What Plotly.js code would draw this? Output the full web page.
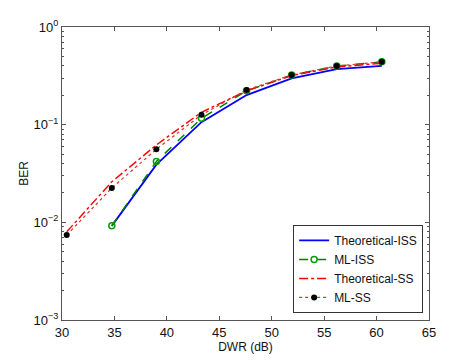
<!DOCTYPE html>
<html>
<head>
<meta charset="utf-8">
<script src="https://cdn.plot.ly/plotly-3.0.1.min.js"></script>
<style>html,body{margin:0;padding:0;background:#fff;}#chart{width:474px;height:361px;}</style>
</head>
<body>
<div id="chart"></div>
<script>
const xSS = [30.45, 34.75, 39.0, 43.3, 47.6, 51.9, 56.2, 60.5];
const xISS = [34.75, 39.0, 43.3, 47.6, 51.9, 56.2, 60.5];
const theoISS = [0.0092, 0.039, 0.106, 0.201, 0.298, 0.37, 0.40];
const mlISS = [0.0092, 0.042, 0.116, 0.222, 0.322, 0.398, 0.44];
const theoSS = [0.008, 0.026, 0.062, 0.134, 0.222, 0.318, 0.39, 0.425];
const mlSS = [0.0074, 0.0225, 0.056, 0.126, 0.227, 0.323, 0.399, 0.44];
const seriesNames = ['Theoretical-ISS', 'ML-ISS', 'Theoretical-SS', 'ML-SS'];
const xTicks = [30, 35, 40, 45, 50, 55, 60, 65];
const yTicks = [0.001, 0.01, 0.1, 1];
const yTickText = ['10<sup>−3</sup>', '10<sup>−2</sup>', '10<sup>−1</sup>', '10<sup>0</sup>'];

const minorY = [];
[0.001, 0.01, 0.1].forEach(d => { for (let k = 2; k <= 9; k++) minorY.push(d * k); });

const traces = [
  {x: xISS, y: theoISS, name: seriesNames[0], mode: 'lines', line: {color: '#0000ff', width: 1.8}},
  {x: xISS, y: mlISS, name: seriesNames[1], mode: 'lines+markers', line: {color: '#008000', width: 1.5, dash: 'dash'},
   marker: {symbol: 'circle-open', size: 6, color: '#00a000', line: {width: 1.5}}},
  {x: xSS, y: theoSS, name: seriesNames[2], mode: 'lines', line: {color: '#ff0000', width: 1.4, dash: 'dashdot'}},
  {x: xSS, y: mlSS, name: seriesNames[3], mode: 'lines+markers', line: {color: '#e03030', width: 1.2, dash: 'dot'},
   marker: {symbol: 'circle', size: 6, color: '#000000'}}
];

const font = {family: '"Liberation Sans", Arial, Helvetica, sans-serif', color: '#111', size: 13};
const layout = {
  width: 474, height: 361,
  margin: {l: 62, r: 45, t: 27, b: 41},
  paper_bgcolor: '#fff', plot_bgcolor: '#fff',
  font: font,
  showlegend: true,
  xaxis: {
    range: [30, 65], tickmode: 'array', tickvals: xTicks, ticks: 'inside', ticklen: 4,
    tickcolor: '#555', showline: true, linecolor: '#555', linewidth: 1, mirror: 'allticks',
    showgrid: false, zeroline: false,
    title: {text: 'DWR (dB)', font: {size: 12}, standoff: 0}
  },
  yaxis: {
    type: 'log', range: [-3, 0], tickmode: 'array', tickvals: yTicks, ticktext: yTickText,
    ticks: 'inside', ticklen: 4, tickcolor: '#555', showline: true, linecolor: '#555', linewidth: 1,
    mirror: 'allticks', showgrid: false, zeroline: false,
    minor: {tickmode: 'array', tickvals: minorY, ticks: 'inside', ticklen: 2, tickcolor: '#555', showgrid: false},
    title: {text: 'BER', font: {size: 12}, standoff: 2}
  },
  legend: {
    x: 0.984, y: 0.024, xanchor: 'right', yanchor: 'bottom',
    bgcolor: '#fff', bordercolor: '#333', borderwidth: 1,
    font: {size: 12, color: '#111'}, tracegroupgap: 0
  }
};

Plotly.newPlot('chart', traces, layout, {staticPlot: true, displayModeBar: false});
</script>
</body>
</html>
